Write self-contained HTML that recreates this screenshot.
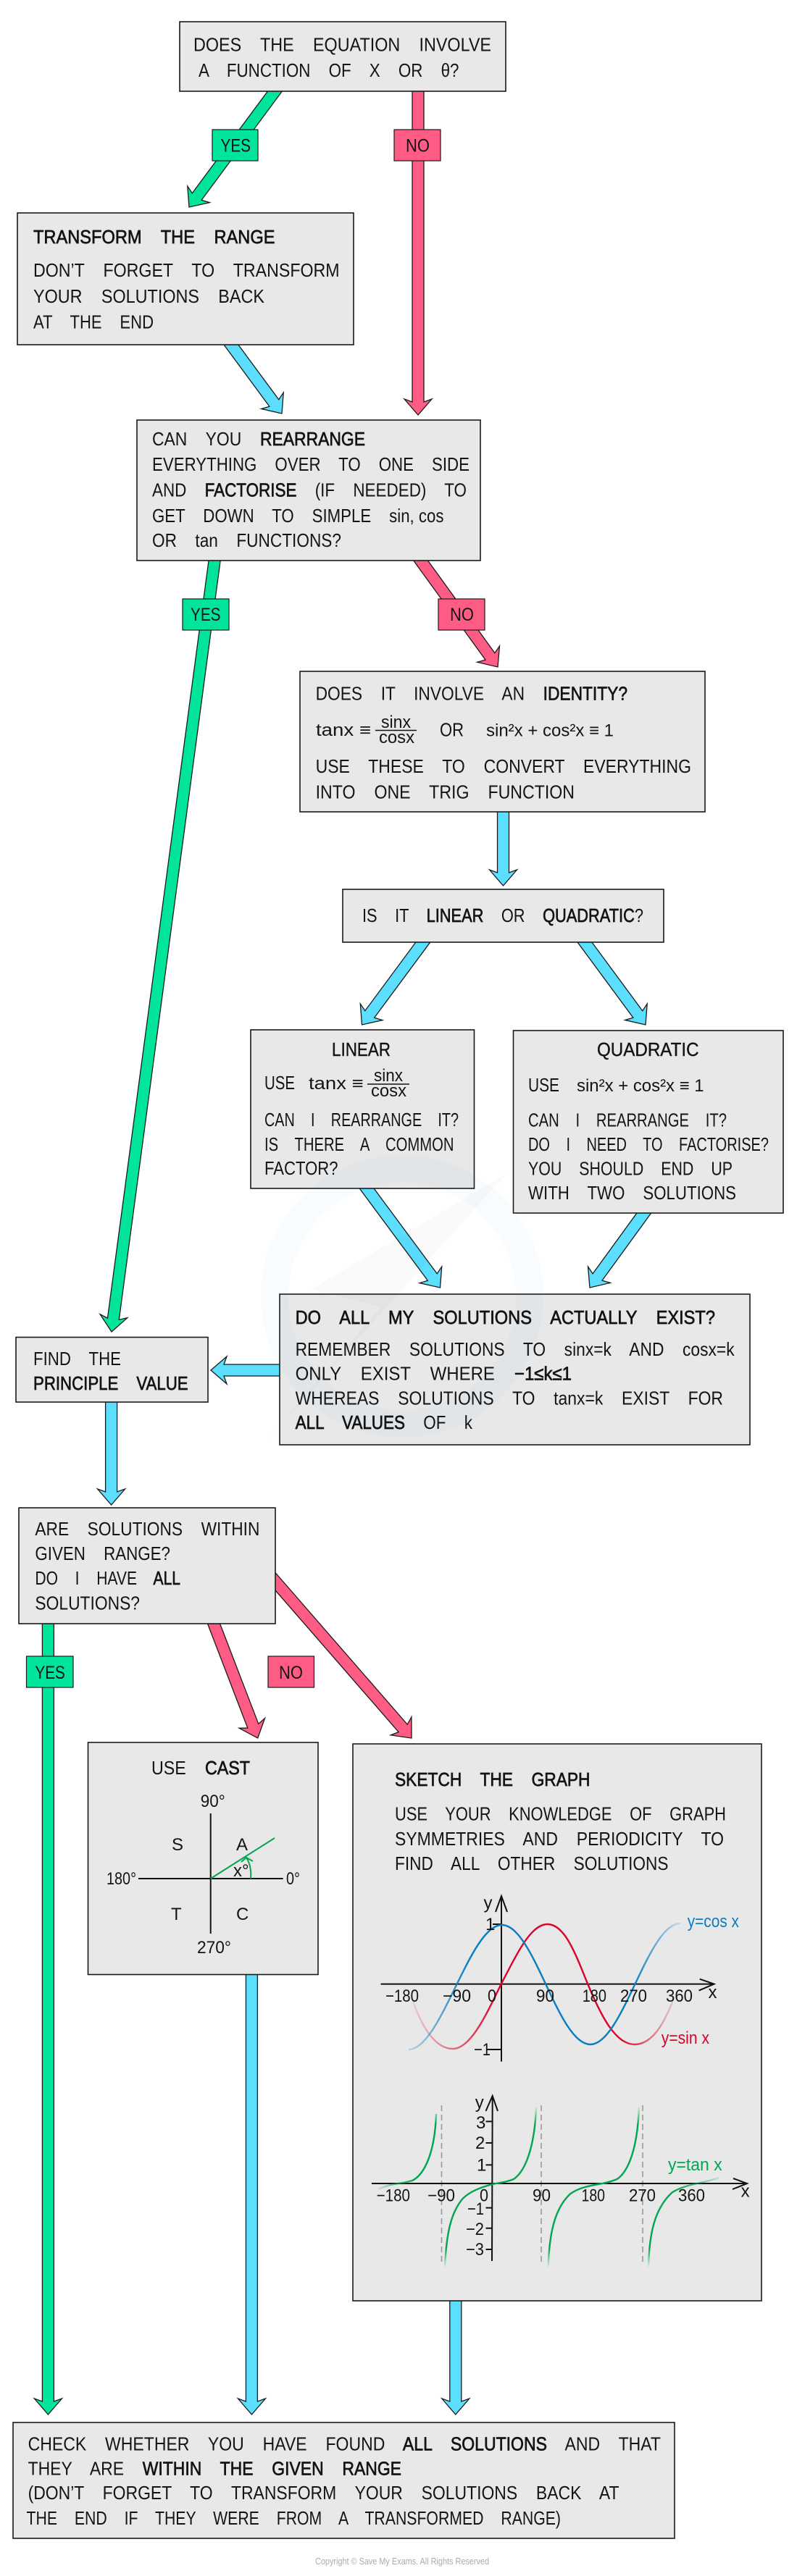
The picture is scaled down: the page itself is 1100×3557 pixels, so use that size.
<!DOCTYPE html>
<html><head><meta charset="utf-8"><title>Solving trig equations flowchart</title>
<style>
html,body{margin:0;padding:0;background:#fff}
svg{display:block}
text{font-family:"Liberation Sans",sans-serif;font-size:26px;fill:#141414;word-spacing:22px}
.b{stroke:#111;stroke-width:.7}
.box{fill:#e8e8e8;stroke:#1a1a1a;stroke-width:1.6}
.g{fill:#00e59b}.r{fill:#ff5c85}.c{fill:#5cdfff}
.a polygon{stroke:#1a1a1a;stroke-width:1.3;stroke-linejoin:miter}
.lab{stroke:#1a1a1a;stroke-width:1.2}
.l{font-size:25px;word-spacing:0}
.m{font-size:24px;word-spacing:0}
.s{font-size:24px;word-spacing:0}
.ns{word-spacing:0}
.ax{stroke:#111;stroke-width:2;fill:none}
.cv{fill:none;stroke-width:2.4}
</style></head><body>
<svg xmlns="http://www.w3.org/2000/svg" width="1100" height="3557" viewBox="0 0 1100 3557">
<defs>
<linearGradient id="gc" gradientUnits="userSpaceOnUse" x1="564" y1="0" x2="940" y2="0">
<stop offset="0" stop-color="#0a7cc4" stop-opacity=".2"/><stop offset=".22" stop-color="#0a7cc4"/><stop offset=".82" stop-color="#0a7cc4"/><stop offset="1" stop-color="#0a7cc4" stop-opacity=".12"/></linearGradient>
<linearGradient id="gs" gradientUnits="userSpaceOnUse" x1="570" y1="0" x2="930" y2="0">
<stop offset="0" stop-color="#d9042b" stop-opacity=".12"/><stop offset=".25" stop-color="#d9042b" stop-opacity=".8"/><stop offset=".32" stop-color="#d9042b"/><stop offset=".8" stop-color="#d9042b"/><stop offset="1" stop-color="#d9042b" stop-opacity=".15"/></linearGradient>
<linearGradient id="gt" gradientUnits="userSpaceOnUse" x1="0" y1="2907" x2="0" y2="3131">
<stop offset="0" stop-color="#00a651" stop-opacity="0"/><stop offset=".12" stop-color="#00a651"/><stop offset=".88" stop-color="#00a651"/><stop offset="1" stop-color="#00a651" stop-opacity="0"/></linearGradient>
<linearGradient id="gl" gradientUnits="userSpaceOnUse" x1="522" y1="0" x2="570" y2="0">
<stop offset="0" stop-color="#00a651" stop-opacity=".15"/><stop offset="1" stop-color="#00a651"/></linearGradient>
<linearGradient id="gr" gradientUnits="userSpaceOnUse" x1="930" y1="0" x2="993" y2="0">
<stop offset="0" stop-color="#00a651"/><stop offset="1" stop-color="#00a651" stop-opacity=".15"/></linearGradient>
</defs>

<!-- arrows -->
<g class="a">
<g class="g" transform="translate(261,286) rotate(126.5)"><polygon points="-207,-8 -18,-8 -22,-19 0,0 -22,19 -18,8 -207,8"/></g>
<g class="r" transform="translate(577,573) rotate(90)"><polygon points="-453,-8 -18,-8 -22,-19 0,0 -22,19 -18,8 -453,8"/></g>
<g class="c" transform="translate(389,571) rotate(53.6)"><polygon points="-126,-8 -18,-8 -22,-19 0,0 -22,19 -18,8 -126,8"/></g>
<g class="g" transform="translate(154,1839) rotate(97.6)"><polygon points="-1082,-8 -18,-8 -22,-19 0,0 -22,19 -18,8 -1082,8"/></g>
<g class="r" transform="translate(687,921) rotate(54.1)"><polygon points="-190,-8 -18,-8 -22,-19 0,0 -22,19 -18,8 -190,8"/></g>
<g class="c" transform="translate(694.5,1223) rotate(90)"><polygon points="-108,-8 -18,-8 -22,-19 0,0 -22,19 -18,8 -108,8"/></g>
<g class="c" transform="translate(499.5,1415) rotate(126.5)"><polygon points="-150,-8 -18,-8 -22,-19 0,0 -22,19 -18,8 -150,8"/></g>
<g class="c" transform="translate(891,1415) rotate(53.6)"><polygon points="-150,-8 -18,-8 -22,-19 0,0 -22,19 -18,8 -150,8"/></g>
<g class="c" transform="translate(607.5,1778) rotate(53.5)"><polygon points="-178,-8 -18,-8 -22,-19 0,0 -22,19 -18,8 -178,8"/></g>
<g class="c" transform="translate(814,1778) rotate(126)"><polygon points="-135,-8 -18,-8 -22,-19 0,0 -22,19 -18,8 -135,8"/></g>
<g class="c" transform="translate(291,1892) rotate(180)"><polygon points="-102,-8 -18,-8 -22,-19 0,0 -22,19 -18,8 -102,8"/></g>
<g class="c" transform="translate(153.6,2078) rotate(90)"><polygon points="-148,-8 -18,-8 -22,-19 0,0 -22,19 -18,8 -148,8"/></g>
<g class="g" transform="translate(66.4,3334) rotate(90)"><polygon points="-1098,-8 -18,-8 -22,-19 0,0 -22,19 -18,8 -1098,8"/></g>
<g class="r" transform="translate(355.7,2400) rotate(69)"><polygon points="-177,-8 -18,-8 -22,-19 0,0 -22,19 -18,8 -177,8"/></g>
<g class="r" transform="translate(568,2400) rotate(49)"><polygon points="-296,-8 -18,-8 -22,-19 0,0 -22,19 -18,8 -296,8"/></g>
<g class="c" transform="translate(347.4,3334) rotate(90)"><polygon points="-614,-8 -18,-8 -22,-19 0,0 -22,19 -18,8 -614,8"/></g>
<g class="c" transform="translate(628.8,3334) rotate(90)"><polygon points="-163,-8 -18,-8 -22,-19 0,0 -22,19 -18,8 -163,8"/></g>
</g>

<!-- boxes -->
<rect class="box" x="248" y="30" width="450" height="96"/>
<rect class="box" x="24" y="294" width="464" height="182"/>
<rect class="box" x="189" y="580" width="474" height="194"/>
<rect class="box" x="414" y="927" width="559" height="194"/>
<rect class="box" x="473" y="1228" width="443" height="73"/>
<rect class="box" x="346" y="1422" width="308.5" height="219"/>
<rect class="box" x="708.5" y="1423" width="372.5" height="252"/>
<rect class="box" x="386" y="1787" width="649" height="208"/>
<rect class="box" x="22" y="1846.5" width="265" height="89.5"/>
<rect class="box" x="26" y="2082" width="354" height="160"/>
<rect class="box" x="121.5" y="2406" width="317.5" height="320.5"/>
<rect class="box" x="487" y="2408" width="564" height="769"/>
<rect class="box" x="18" y="3345" width="913" height="160"/>

<!-- watermark -->
<circle cx="555" cy="1790" r="176" fill="none" stroke="#5cb8e0" stroke-width="38" opacity=".04"/>
<polygon points="700,1620 430,1780 525,1805 367,1990" fill="#000" opacity=".018"/>

<!-- yes/no labels -->
<rect class="g lab" x="293" y="179" width="63" height="43"/>
<text class="l" x="304.5" y="209.5" textLength="41.5" lengthAdjust="spacingAndGlyphs">YES</text>
<rect class="r lab" x="544" y="179" width="64" height="43"/>
<text class="l" x="560" y="209.5" textLength="33" lengthAdjust="spacingAndGlyphs">NO</text>
<rect class="g lab" x="252" y="827" width="64" height="43"/>
<text class="l" x="263" y="857" textLength="41.5" lengthAdjust="spacingAndGlyphs">YES</text>
<rect class="r lab" x="605" y="827" width="64" height="43"/>
<text class="l" x="621" y="857" textLength="33" lengthAdjust="spacingAndGlyphs">NO</text>
<rect class="g lab" x="36.5" y="2287" width="64.5" height="43"/>
<text class="l" x="48.4" y="2318" textLength="41.5" lengthAdjust="spacingAndGlyphs">YES</text>
<rect class="r lab" x="370" y="2287" width="63.5" height="43"/>
<text class="l" x="385" y="2318" textLength="33" lengthAdjust="spacingAndGlyphs">NO</text>

<!-- box 1 -->
<text x="267" y="70.6" textLength="411" lengthAdjust="spacingAndGlyphs">DOES THE EQUATION INVOLVE</text>
<text x="274" y="106" textLength="359.5" lengthAdjust="spacingAndGlyphs">A FUNCTION OF X OR θ?</text>
<!-- transform -->
<text class="b" x="46" y="336" textLength="333.5" lengthAdjust="spacingAndGlyphs">TRANSFORM THE RANGE</text>
<text x="46" y="382" textLength="422.6" lengthAdjust="spacingAndGlyphs">DON’T FORGET TO TRANSFORM</text>
<text x="46" y="418" textLength="319" lengthAdjust="spacingAndGlyphs">YOUR SOLUTIONS BACK</text>
<text x="46" y="453.5" textLength="166" lengthAdjust="spacingAndGlyphs">AT THE END</text>
<!-- rearrange -->
<text x="210" y="615" textLength="294" lengthAdjust="spacingAndGlyphs">CAN YOU <tspan class="b">REARRANGE</tspan></text>
<text x="210" y="650" textLength="438" lengthAdjust="spacingAndGlyphs">EVERYTHING OVER TO ONE SIDE</text>
<text x="210" y="685.5" textLength="434" lengthAdjust="spacingAndGlyphs">AND <tspan class="b">FACTORISE</tspan> (IF NEEDED) TO</text>
<text x="210" y="721" textLength="402.5" lengthAdjust="spacingAndGlyphs">GET DOWN TO SIMPLE sin,<tspan class="ns"> cos</tspan></text>
<text x="210" y="755" textLength="261" lengthAdjust="spacingAndGlyphs">OR tan FUNCTIONS?</text>
<!-- identity -->
<text x="435.6" y="966.6" textLength="430.4" lengthAdjust="spacingAndGlyphs">DOES IT INVOLVE AN <tspan class="b">IDENTITY?</tspan></text>
<text class="m" x="436" y="1016" textLength="76" lengthAdjust="spacingAndGlyphs">tanx ≡</text>
<text class="m" x="526" y="1005" textLength="41" lengthAdjust="spacingAndGlyphs">sinx</text>
<line x1="518" y1="1008.5" x2="575" y2="1008.5" stroke="#111" stroke-width="1.5"/>
<text class="m" x="523" y="1026" textLength="49" lengthAdjust="spacingAndGlyphs">cosx</text>
<text x="607" y="1016.5" textLength="33" lengthAdjust="spacingAndGlyphs">OR</text>
<text class="m" x="671" y="1016.5" textLength="176" lengthAdjust="spacingAndGlyphs">sin²x + cos²x ≡ 1</text>
<text x="435.6" y="1067" textLength="518.4" lengthAdjust="spacingAndGlyphs">USE THESE TO CONVERT EVERYTHING</text>
<text x="435.6" y="1102.6" textLength="357.4" lengthAdjust="spacingAndGlyphs">INTO ONE TRIG FUNCTION</text>
<!-- LQ -->
<text x="500" y="1273" textLength="388" lengthAdjust="spacingAndGlyphs">IS IT <tspan class="b">LINEAR</tspan> OR <tspan class="b">QUADRATIC</tspan>?</text>
<!-- linear -->
<text class="b" x="458" y="1458" textLength="81" lengthAdjust="spacingAndGlyphs" style="stroke-width:.4">LINEAR</text>
<text x="365" y="1504" textLength="42" lengthAdjust="spacingAndGlyphs">USE</text>
<text class="m" x="426" y="1504" textLength="75.6" lengthAdjust="spacingAndGlyphs">tanx ≡</text>
<text class="m" x="516" y="1493" textLength="40" lengthAdjust="spacingAndGlyphs">sinx</text>
<line x1="507" y1="1497" x2="565" y2="1497" stroke="#111" stroke-width="1.5"/>
<text class="m" x="512" y="1514" textLength="49" lengthAdjust="spacingAndGlyphs">cosx</text>
<text x="365" y="1555" textLength="268" lengthAdjust="spacingAndGlyphs">CAN I REARRANGE IT?</text>
<text x="365" y="1589" textLength="261.5" lengthAdjust="spacingAndGlyphs">IS THERE A COMMON</text>
<text x="365" y="1622" textLength="101.5" lengthAdjust="spacingAndGlyphs">FACTOR?</text>
<!-- quadratic -->
<text class="b" x="824" y="1458" textLength="140.6" lengthAdjust="spacingAndGlyphs" style="stroke-width:.4">QUADRATIC</text>
<text x="729" y="1507" textLength="43" lengthAdjust="spacingAndGlyphs">USE</text>
<text class="m" x="796" y="1507" textLength="175.6" lengthAdjust="spacingAndGlyphs">sin²x + cos²x ≡ 1</text>
<text x="729" y="1555.5" textLength="274" lengthAdjust="spacingAndGlyphs">CAN I REARRANGE IT?</text>
<text x="729" y="1589" textLength="332" lengthAdjust="spacingAndGlyphs">DO I NEED TO FACTORISE?</text>
<text x="729" y="1622.7" textLength="282" lengthAdjust="spacingAndGlyphs">YOU SHOULD END UP</text>
<text x="729" y="1656" textLength="287" lengthAdjust="spacingAndGlyphs">WITH TWO SOLUTIONS</text>
<!-- exist -->
<text class="b" x="407.6" y="1828" textLength="579.4" lengthAdjust="spacingAndGlyphs">DO ALL MY SOLUTIONS ACTUALLY EXIST?</text>
<text x="407.6" y="1872" textLength="606" lengthAdjust="spacingAndGlyphs">REMEMBER SOLUTIONS TO sinx=k AND cosx=k</text>
<text x="407.6" y="1905.6" textLength="381.4" lengthAdjust="spacingAndGlyphs">ONLY EXIST WHERE <tspan class="b">−1≤k≤1</tspan></text>
<text x="407.6" y="1939.5" textLength="590.4" lengthAdjust="spacingAndGlyphs">WHEREAS SOLUTIONS TO tanx=k EXIST FOR</text>
<text x="407.6" y="1973" textLength="244.4" lengthAdjust="spacingAndGlyphs"><tspan class="b">ALL VALUES</tspan> OF k</text>
<!-- principle -->
<text x="46" y="1885" textLength="121" lengthAdjust="spacingAndGlyphs">FIND THE</text>
<text class="b" x="46" y="1919" textLength="213.6" lengthAdjust="spacingAndGlyphs">PRINCIPLE VALUE</text>
<!-- within -->
<text x="48.4" y="2120" textLength="310" lengthAdjust="spacingAndGlyphs">ARE SOLUTIONS WITHIN</text>
<text x="48.4" y="2154" textLength="186.6" lengthAdjust="spacingAndGlyphs">GIVEN RANGE?</text>
<text x="48.4" y="2188" textLength="200.6" lengthAdjust="spacingAndGlyphs">DO I HAVE <tspan class="b">ALL</tspan></text>
<text x="48.4" y="2222.5" textLength="144.6" lengthAdjust="spacingAndGlyphs">SOLUTIONS?</text>
<!-- CAST -->
<text x="209" y="2450" textLength="136" lengthAdjust="spacingAndGlyphs">USE <tspan class="b">CAST</tspan></text>
<line class="ax" x1="290.7" y1="2504" x2="290.7" y2="2670"/>
<line class="ax" x1="191" y1="2594" x2="390.7" y2="2594"/>
<line x1="290.7" y1="2594" x2="379" y2="2538" stroke="#00a651" stroke-width="2"/>
<path d="M346,2594 C347,2583 345,2573 340,2565 M333,2571 L340,2565 L349,2570" fill="none" stroke="#00a651" stroke-width="2"/>
<text class="m" x="322" y="2591">x°</text>
<text class="m" x="276.7" y="2495" textLength="34" lengthAdjust="spacingAndGlyphs">90°</text>
<text class="m" x="147" y="2602" textLength="41" lengthAdjust="spacingAndGlyphs">180°</text>
<text class="m" x="395" y="2602" textLength="19" lengthAdjust="spacingAndGlyphs">0°</text>
<text class="m" x="272" y="2697" textLength="47" lengthAdjust="spacingAndGlyphs">270°</text>
<text class="m" x="237" y="2555">S</text>
<text class="m" x="326" y="2555">A</text>
<text class="m" x="236" y="2651">T</text>
<text class="m" x="326" y="2651">C</text>
<!-- sketch -->
<text class="b" x="545" y="2466" textLength="269.5" lengthAdjust="spacingAndGlyphs">SKETCH THE GRAPH</text>
<text x="545" y="2513.5" textLength="457" lengthAdjust="spacingAndGlyphs">USE YOUR KNOWLEDGE OF GRAPH</text>
<text x="545" y="2548" textLength="454" lengthAdjust="spacingAndGlyphs">SYMMETRIES AND PERIODICITY TO</text>
<text x="545" y="2582" textLength="377.5" lengthAdjust="spacingAndGlyphs">FIND ALL OTHER SOLUTIONS</text>

<!-- sine/cosine graph -->
<g class="ax">
<path d="M692,2618 L692,2846.6 M684,2640 L692,2618 L700,2640"/>
<path d="M525.5,2739.6 L985.6,2739.6 M965.7,2732.7 L985.6,2739.6 L964.6,2748.6"/>
<path d="M680,2657 H692 M672,2830 H692"/>
</g>
<path class="cv" stroke="url(#gs)" d="M570,2764 C585,2805 603,2829 625,2829 C650,2829 672,2780 692,2739 C715,2695 733,2657 755.6,2657 C780,2657 795,2700 811,2739 C830,2785 850,2823 875.8,2823 C900,2823 916,2795 928.7,2763"/>
<path class="cv" stroke="url(#gc)" d="M564,2830 C609,2830 648,2658 692.7,2658 C737,2658 770,2823 814.8,2823 C859,2823 894,2656 938.7,2656"/>
<text class="s" x="667.5" y="2635.5">y</text>
<text class="s" x="977.5" y="2759">x</text>
<text class="s" x="670" y="2665">1</text>
<text class="s" x="654" y="2838" textLength="23" lengthAdjust="spacingAndGlyphs">−1</text>
<text class="s" x="532" y="2764" textLength="46" lengthAdjust="spacingAndGlyphs">−180</text>
<text class="s" x="611" y="2764" textLength="39" lengthAdjust="spacingAndGlyphs">−90</text>
<text class="s" x="673" y="2764" textLength="12" lengthAdjust="spacingAndGlyphs">0</text>
<text class="s" x="740" y="2764" textLength="25" lengthAdjust="spacingAndGlyphs">90</text>
<text class="s" x="803.7" y="2764" textLength="33.3" lengthAdjust="spacingAndGlyphs">180</text>
<text class="s" x="856" y="2764" textLength="37" lengthAdjust="spacingAndGlyphs">270</text>
<text class="s" x="919" y="2764" textLength="37" lengthAdjust="spacingAndGlyphs">360</text>
<text class="s" x="948.7" y="2661" textLength="71.3" lengthAdjust="spacingAndGlyphs" style="fill:#0a7cc4">y=cos x</text>
<text class="s" x="912.8" y="2822" textLength="66.2" lengthAdjust="spacingAndGlyphs" style="fill:#d9042b">y=sin x</text>

<!-- tangent graph -->
<g fill="none" stroke="#999" stroke-width="1.6" stroke-dasharray="8 5">
<path d="M609.5,2907 V3125 M747,2907 V3125 M887,2907 V3125"/>
</g>
<g class="ax">
<path d="M679.7,2894 L679,3122 M670.5,2915 L679.7,2894 L687,2915"/>
<path d="M513,3015 L1031,3015 M1012,3008 L1031,3015 L1011,3023"/>
<path d="M670.5,2929.4 H680 M670.5,2959 H680 M670.5,2989.4 H680 M670.5,3048.6 H680 M670.5,3076.8 H680 M670.5,3106 H680"/>
</g>
<path class="cv" stroke="url(#gl)" d="M522.5,3022.5 C540,3015 555,3015 569,3011"/>
<path class="cv" stroke="url(#gt)" d="M569,3011 C585,3003 600,2975 602,2919"/>
<path class="cv" stroke="url(#gt)" d="M614,3131 C616,3085 622,3055 639,3035.5 C650,3025 665,3020 679.7,3016 C695,3013 702,3012 709,3009 C725,2998 738,2965 740,2909"/>
<path class="cv" stroke="url(#gt)" d="M756.7,3131 C758,3085 765,3050 787,3029.4 C800,3020 815,3018 831.4,3015 C840,3013 845,3012 851.7,3009 C868,2998 880,2965 882,2909"/>
<path class="cv" stroke="url(#gt)" d="M895,3131 C896,3085 903,3050 927.6,3027.4"/>
<path class="cv" stroke="url(#gr)" d="M927.6,3027.4 C945,3016 970,3015 992.3,3007"/>
<text class="s" x="655.7" y="2911">y</text>
<text class="s" x="1022.6" y="3033.5">x</text>
<text class="s" x="657" y="2939">3</text>
<text class="s" x="656" y="2967">2</text>
<text class="s" x="658" y="2997.6">1</text>
<text class="s" x="645" y="3058" textLength="23" lengthAdjust="spacingAndGlyphs">−1</text>
<text class="s" x="643" y="3086" textLength="25" lengthAdjust="spacingAndGlyphs">−2</text>
<text class="s" x="643" y="3114" textLength="25" lengthAdjust="spacingAndGlyphs">−3</text>
<text class="s" x="519.6" y="3039.6" textLength="46.4" lengthAdjust="spacingAndGlyphs">−180</text>
<text class="s" x="590" y="3039.6" textLength="38" lengthAdjust="spacingAndGlyphs">−90</text>
<text class="s" x="662" y="3039.6" textLength="12" lengthAdjust="spacingAndGlyphs">0</text>
<text class="s" x="735" y="3039.6" textLength="25" lengthAdjust="spacingAndGlyphs">90</text>
<text class="s" x="802.5" y="3039.6" textLength="32.5" lengthAdjust="spacingAndGlyphs">180</text>
<text class="s" x="868" y="3039.6" textLength="37" lengthAdjust="spacingAndGlyphs">270</text>
<text class="s" x="936" y="3039.6" textLength="37" lengthAdjust="spacingAndGlyphs">360</text>
<text class="s" x="922" y="2997" textLength="74.7" lengthAdjust="spacingAndGlyphs" style="fill:#00a651">y=tan x</text>

<!-- bottom -->
<text x="38.6" y="3383.4" textLength="873.4" lengthAdjust="spacingAndGlyphs">CHECK WHETHER YOU HAVE FOUND <tspan class="b">ALL SOLUTIONS</tspan> AND THAT</text>
<text x="38.6" y="3417.5" textLength="515.4" lengthAdjust="spacingAndGlyphs">THEY ARE <tspan class="b">WITHIN THE GIVEN RANGE</tspan></text>
<text x="38.6" y="3451" textLength="815.9" lengthAdjust="spacingAndGlyphs">(DON’T FORGET TO TRANSFORM YOUR SOLUTIONS BACK AT</text>
<text x="36.5" y="3486" textLength="737.5" lengthAdjust="spacingAndGlyphs">THE END IF THEY WERE FROM A TRANSFORMED RANGE)</text>
<text x="435" y="3541" textLength="240" lengthAdjust="spacingAndGlyphs" style="font-size:13px;fill:#aaa;word-spacing:0">Copyright © Save My Exams. All Rights Reserved</text>
</svg>
</body></html>
